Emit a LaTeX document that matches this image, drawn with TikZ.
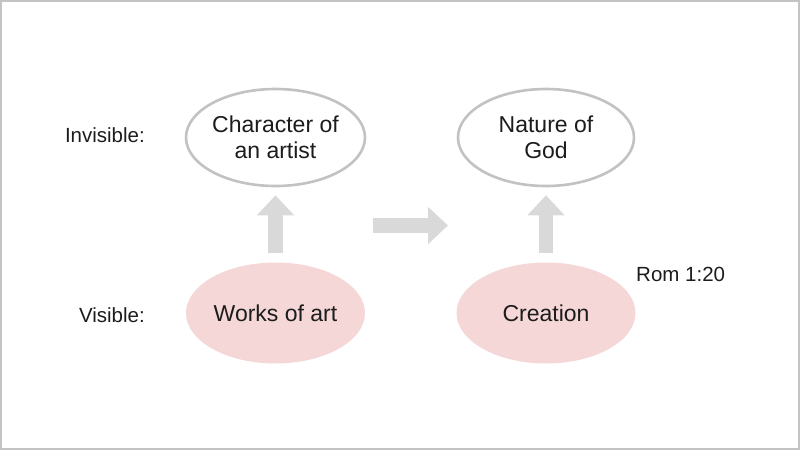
\documentclass[tikz,border=0pt]{standalone}
\usepackage{fontspec}
\setmainfont{Liberation Sans}
\usetikzlibrary{shapes.geometric,arrows.meta}
\definecolor{frame}{HTML}{C4C4C4}
\definecolor{outl}{HTML}{C2C2C2}
\definecolor{pinkfill}{HTML}{F5D7D7}
\definecolor{arrowgray}{HTML}{D9D9D9}
\definecolor{txt}{HTML}{1C1C1C}
\tikzset{
  topell/.style={ellipse, draw=outl, line width=2.6pt, fill=white, minimum width=176pt, minimum height=97pt, inner sep=0pt, align=center, text=txt, font=\fontsize{23}{26.5}\selectfont},
  botell/.style={ellipse, fill=pinkfill, minimum width=179pt, minimum height=101pt, inner sep=0pt, align=center, text=txt, font=\fontsize{23}{26.5}\selectfont},
  lbl/.style={text=txt, font=\fontsize{20.5}{24}\selectfont, inner sep=0pt},
  blockarrow/.style={draw=arrowgray, line width=14.5pt, -{Triangle[width=36pt,length=20pt]}}
}
\begin{document}
\begin{tikzpicture}[x=1pt,y=-1pt]
\useasboundingbox (0,0) rectangle (800,450);
\draw[frame, line width=2pt] (1,1) rectangle (799,449);
\node[topell] (char) at (275.5,137.5) {Character of\\an artist};
\node[topell] (nat) at (546,137.5) {Nature of\\God};
\node[botell] (works) at (275.5,313) {Works of art};
\node[botell] (crea) at (546,313) {Creation};
\node[lbl, anchor=base east] (inv) at (145,142) {Invisible:};
\node[lbl, anchor=base east] (vis) at (145,322) {Visible:};
\node[lbl, anchor=base west] (rom) at (636,281) {Rom 1:20};
\draw[blockarrow, shorten <=9pt, shorten >=8pt] (works.north) -- (char.south);
\draw[blockarrow, shorten <=9pt, shorten >=8pt] (crea.north) -- (nat.south);
\coordinate (h1) at (373,225.5);
\coordinate (h2) at (448,225.5);
\draw[blockarrow] (h1) -- (h2);
\end{tikzpicture}
\end{document}
